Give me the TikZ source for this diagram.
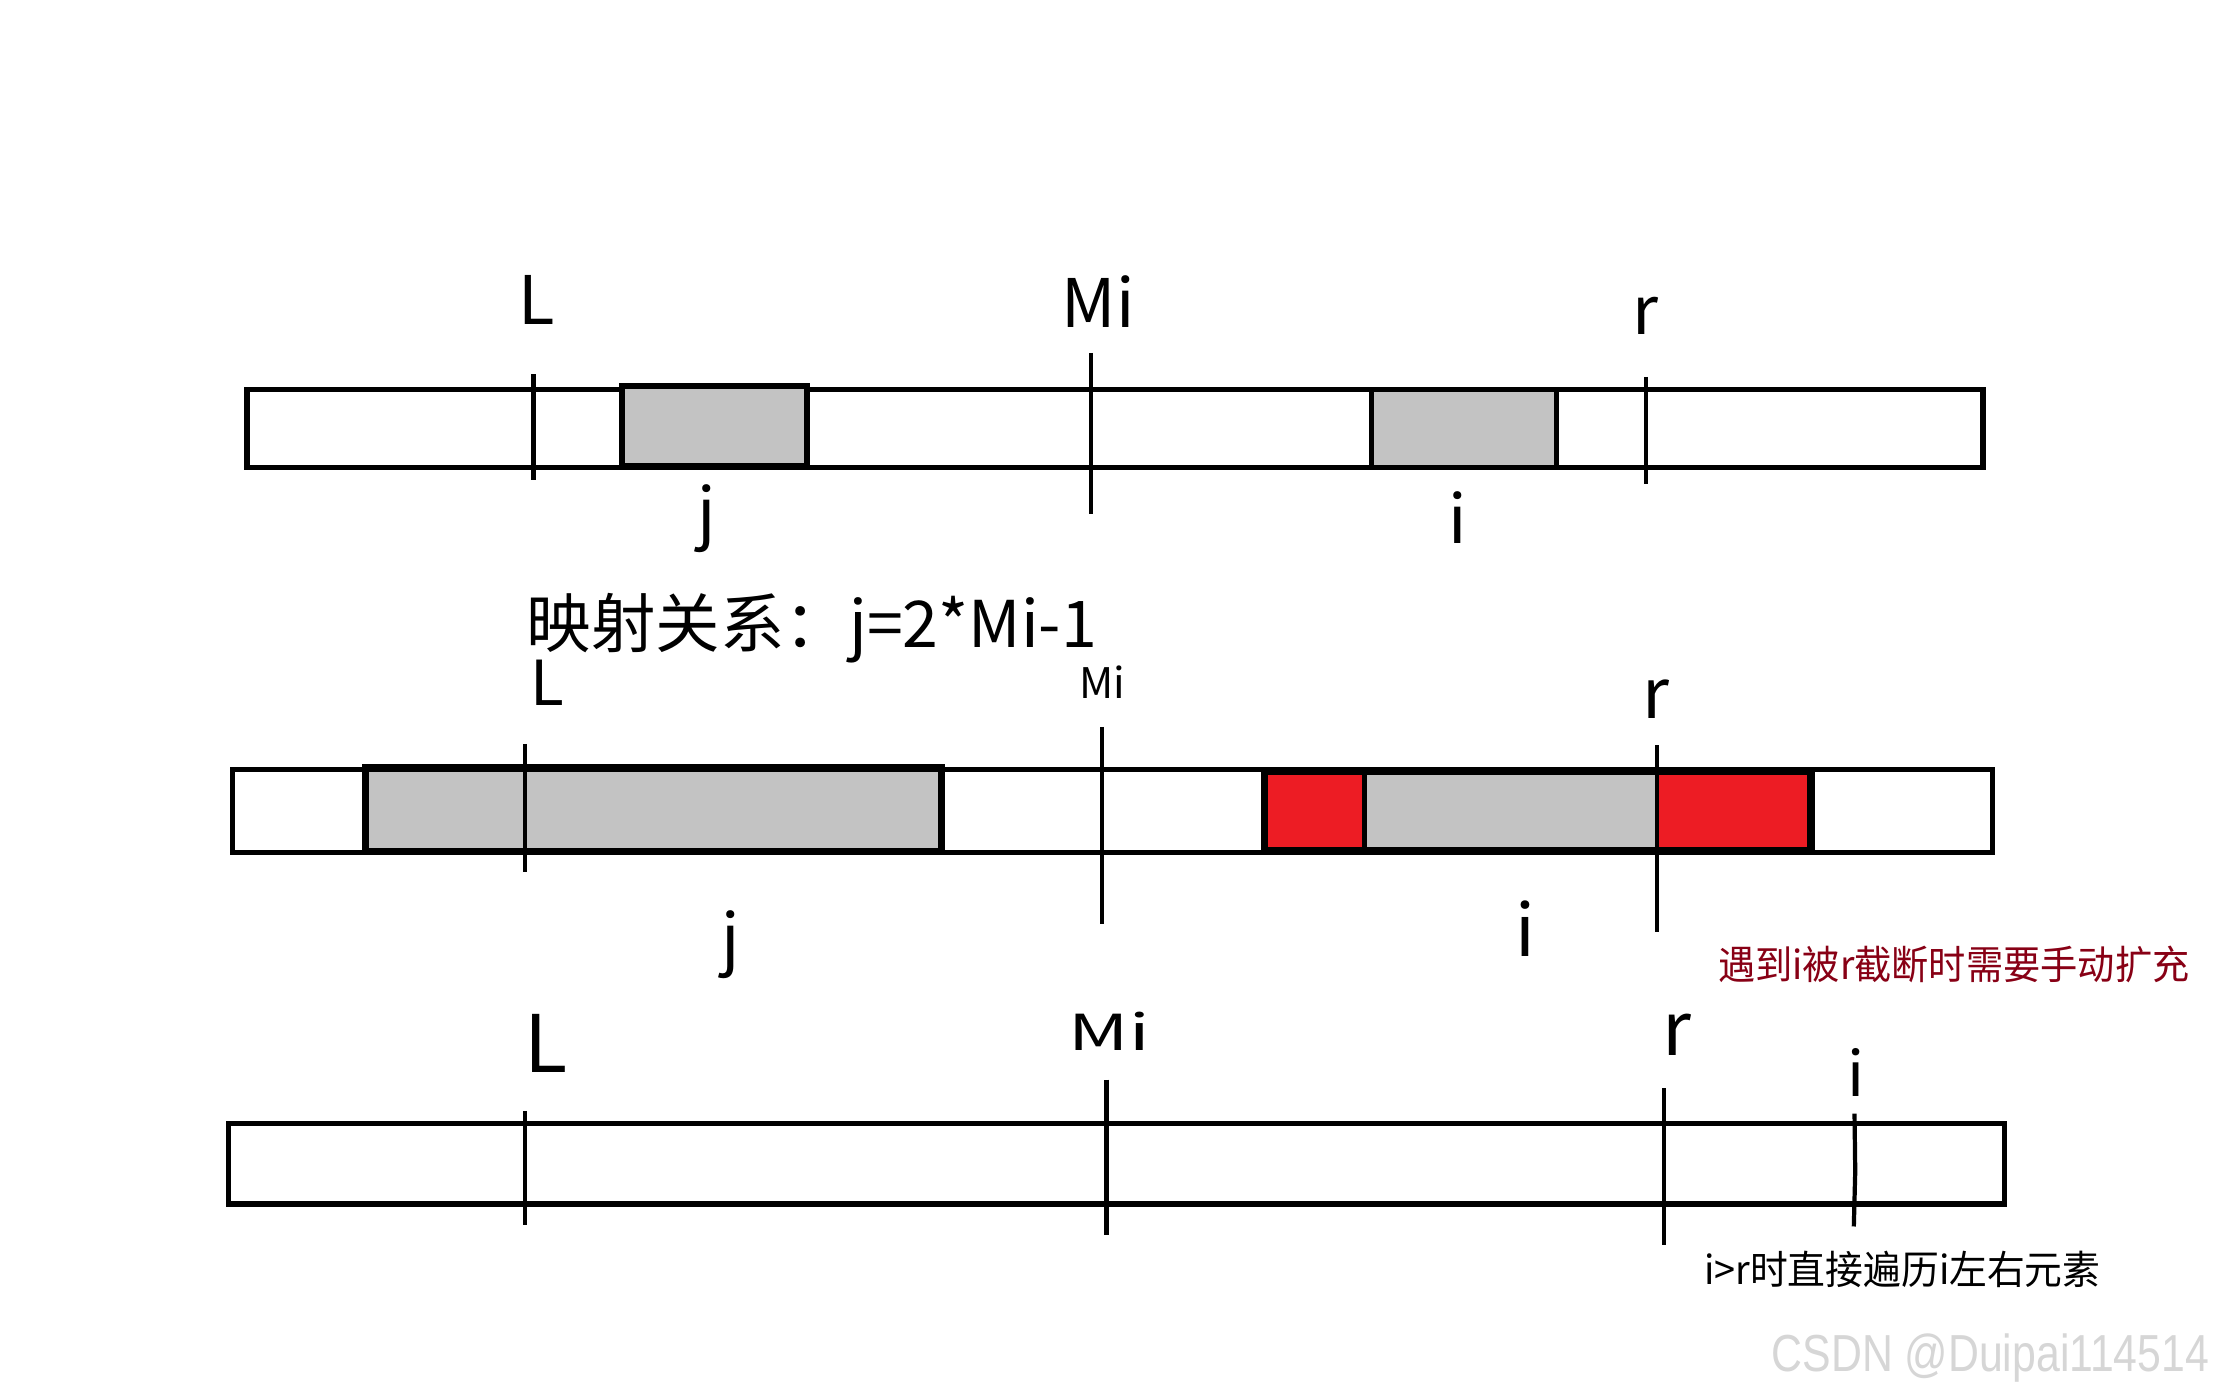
\documentclass[tikz,border=0pt]{standalone}
\usepackage{fontspec}
\setmainfont{Noto Sans CJK SC}
\newfontfamily\wmfont{Liberation Sans}
\definecolor{pgray}{HTML}{C3C3C3}
\definecolor{pred}{HTML}{ED1C24}
\definecolor{pdark}{HTML}{880015}
\definecolor{wmgray}{HTML}{D6D6D6}
\begin{document}
\begin{tikzpicture}[x=0.02cm,y=-0.02cm,
  bar/.style={draw=black,line width=2.1pt,fill=white},
  tick/.style={draw=black,line width=1.7pt},
  lab/.style={anchor=base,inner sep=0pt,font=\fontsize{27}{27}\selectfont},
  hand/.style={anchor=base,inner sep=0pt},
  note/.style={anchor=base west,inner sep=0pt,font=\fontsize{16}{16}\selectfont}]
\useasboundingbox (0,0) rectangle (1568,987);
\fill[white] (0,0) rectangle (1568,987);

% ---------- row 1 ----------
\draw[bar] (175,276) rectangle (1405,331);
\draw[line width=2.4pt,fill=pgray] (441,273.5) rectangle (572,330);
\draw[line width=2.1pt,fill=pgray] (972,276) rectangle (1103,331);
\draw[tick] (378,265) -- (378,340);
\draw[tick] (773,250) -- (773,364);
\draw[tick] (1166,267) -- (1166,343);
\node[lab] (L1) at (380,230) {L};
\node[lab] (M1) at (778,232) {Mi};
\node[lab] (R1) at (1166,237) {r};
\node[lab] (J1) at (501,380) {j};
\node[lab] (I1) at (1033,385) {i};
\node[anchor=base west,inner sep=0pt,font=\fontsize{26}{26}\selectfont] (map) at (373,459) {映射关系：j=2*Mi-1};

% ---------- row 2 ----------
\draw[bar] (165,545) rectangle (1412,604);
\draw[line width=3pt,fill=pgray] (259,544) rectangle (667,603.5);
\fill[pred] (896,546.5) rectangle (967,602.5);
\fill[pgray] (967,546.5) rectangle (1174,602.5);
\fill[pred] (1174,546.5) rectangle (1283,602.5);
\draw[line width=2pt] (967,546.5) -- (967,602.5);
\draw[line width=3pt] (896,546.5) rectangle (1283,602.5);
\draw[tick] (372,527) -- (372,618);
\draw[tick] (781,515) -- (781,655);
\draw[tick] (1174,528) -- (1174,660);
\node[hand,font=\fontsize{25}{25}\selectfont] (L2) at (388,500) {L};
\node[hand,font=\fontsize{17}{17}\selectfont] (M2) at (781,495) {Mi};
\node[hand,font=\fontsize{28}{28}\selectfont] (R2) at (1173,509) {r};
\node[hand,font=\fontsize{27}{27}\selectfont] (J2) at (518,682) {j};
\node[hand,font=\fontsize{29}{29}\selectfont] (I2) at (1081,678) {i};
\node[note,text=pdark] (n1) at (1217,694) {\resizebox{6.68cm}{\height}{遇到i被r截断时需要手动扩充}};

% ---------- row 3 ----------
\draw[bar] (162,796) rectangle (1420,853);
\draw[tick] (372,787) -- (372,868);
\draw[tick] (784,765) -- (784,875);
\draw[tick] (1179,771) -- (1179,882);
\draw[tick] (1314,789) -- (1314.5,830) -- (1313.5,869);
\node[hand,font=\fontsize{32}{32}\selectfont] (L3) at (387,760) {L};
\node[hand,font=\fontsize{20}{20}\selectfont] (M3) at (786,744) {\scalebox{1.5}[1]{Mi}};
\node[hand,font=\fontsize{30}{30}\selectfont] (R3) at (1188,748) {r};
\node[hand,font=\fontsize{25}{25}\selectfont] (I3) at (1315,777) {i};
\node[note,text=black] (n2) at (1207,910) {\resizebox{5.62cm}{\height}{i>r时直接遍历i左右元素}};

% ---------- watermark ----------
\node[anchor=base west,inner sep=0pt,text=wmgray,font=\wmfont\fontsize{21}{21}\selectfont] (wm) at (1255,972) {\resizebox{6.2cm}{\height}{CSDN @Duipai114514}};
\end{tikzpicture}
\end{document}
